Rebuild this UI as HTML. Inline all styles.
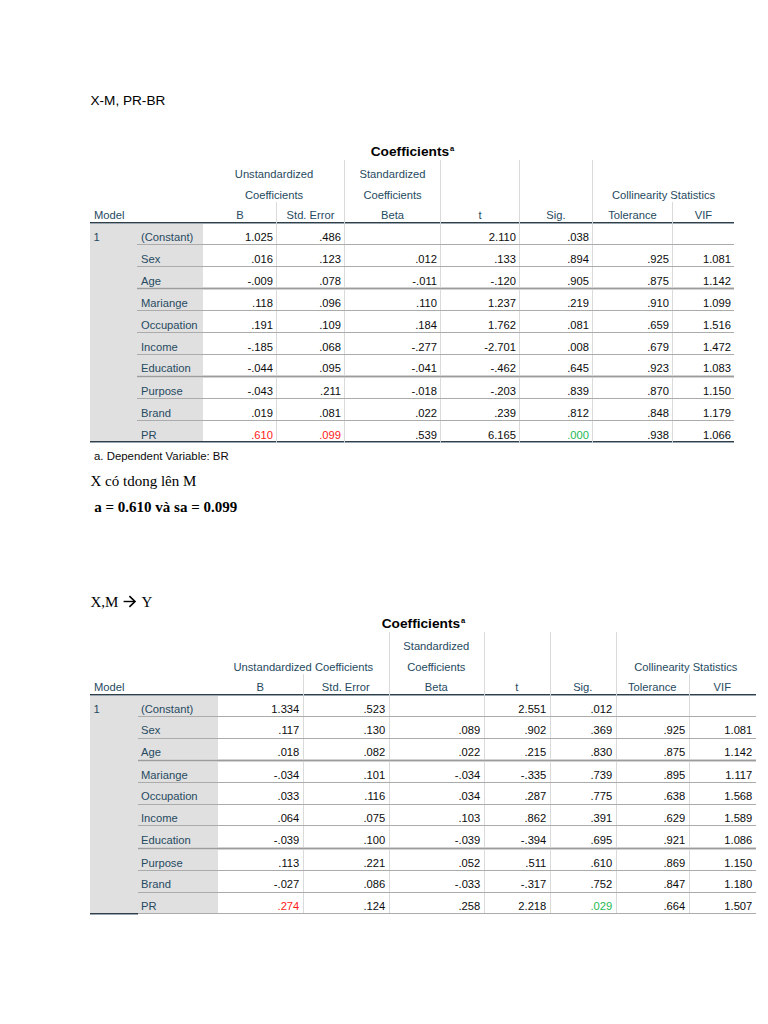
<!DOCTYPE html>
<html><head><meta charset="utf-8"><title>Coefficients</title>
<style>
html,body{margin:0;padding:0;background:#fff;}
body{width:768px;height:1024px;position:relative;overflow:hidden;font-family:"Liberation Sans", sans-serif;}
.t{position:absolute;white-space:nowrap;line-height:1;}
.r{position:absolute;}
sup{font-size:0.55em;vertical-align:0;position:relative;top:-0.7em;margin-left:1px;}
</style></head><body>
<div class="t" style="top:94px;left:90.5px;font-size:13.6px;color:#000;">X-M, PR-BR</div>
<div class="r" style="left:90px;top:224px;width:113px;height:217px;background:#e0e0e0"></div>
<div class="r" style="left:276px;top:202px;width:1px;height:241px;background:#dadada"></div>
<div class="r" style="left:344px;top:160px;width:1px;height:283px;background:#dadada"></div>
<div class="r" style="left:440px;top:160px;width:1px;height:283px;background:#dadada"></div>
<div class="r" style="left:519px;top:160px;width:1px;height:283px;background:#dadada"></div>
<div class="r" style="left:592px;top:160px;width:1px;height:283px;background:#dadada"></div>
<div class="r" style="left:672px;top:202px;width:1px;height:241px;background:#dadada"></div>
<div class="r" style="left:90px;top:222px;width:644px;height:1px;background:#2f404b"></div>
<div class="r" style="left:90px;top:223px;width:644px;height:1px;background:#9aa5ad"></div>
<div class="r" style="left:276px;top:222px;width:1px;height:2px;background:#c9cfd3"></div>
<div class="r" style="left:344px;top:222px;width:1px;height:2px;background:#c9cfd3"></div>
<div class="r" style="left:440px;top:222px;width:1px;height:2px;background:#c9cfd3"></div>
<div class="r" style="left:519px;top:222px;width:1px;height:2px;background:#c9cfd3"></div>
<div class="r" style="left:592px;top:222px;width:1px;height:2px;background:#c9cfd3"></div>
<div class="r" style="left:672px;top:222px;width:1px;height:2px;background:#c9cfd3"></div>
<div class="r" style="left:137px;top:244px;width:597px;height:1px;background:#ababab"></div>
<div class="r" style="left:137px;top:266px;width:597px;height:1px;background:#ababab"></div>
<div class="r" style="left:137px;top:287px;width:597px;height:1px;background:#d2d2d2"></div>
<div class="r" style="left:137px;top:288px;width:597px;height:1px;background:#9c9c9c"></div>
<div class="r" style="left:137px;top:289px;width:597px;height:1px;background:#d2d2d2"></div>
<div class="r" style="left:137px;top:310px;width:597px;height:1px;background:#ababab"></div>
<div class="r" style="left:137px;top:332px;width:597px;height:1px;background:#ababab"></div>
<div class="r" style="left:137px;top:354px;width:597px;height:1px;background:#ababab"></div>
<div class="r" style="left:137px;top:375px;width:597px;height:1px;background:#d2d2d2"></div>
<div class="r" style="left:137px;top:376px;width:597px;height:1px;background:#9c9c9c"></div>
<div class="r" style="left:137px;top:377px;width:597px;height:1px;background:#d2d2d2"></div>
<div class="r" style="left:137px;top:398px;width:597px;height:1px;background:#ababab"></div>
<div class="r" style="left:137px;top:420px;width:597px;height:1px;background:#ababab"></div>
<div class="r" style="left:90px;top:441px;width:644px;height:1px;background:#2f404b"></div>
<div class="r" style="left:90px;top:442px;width:644px;height:1px;background:#9aa5ad"></div>
<div class="r" style="left:276px;top:441px;width:1px;height:2px;background:#c9cfd3"></div>
<div class="r" style="left:344px;top:441px;width:1px;height:2px;background:#c9cfd3"></div>
<div class="r" style="left:440px;top:441px;width:1px;height:2px;background:#c9cfd3"></div>
<div class="r" style="left:519px;top:441px;width:1px;height:2px;background:#c9cfd3"></div>
<div class="r" style="left:592px;top:441px;width:1px;height:2px;background:#c9cfd3"></div>
<div class="r" style="left:672px;top:441px;width:1px;height:2px;background:#c9cfd3"></div>
<div class="t" style="top:145px;left:212.5px;width:400px;text-align:center;font-size:13.7px;color:#000;font-weight:bold;">Coefficients<sup>a</sup></div>
<div class="t" style="top:169px;left:74px;width:400px;text-align:center;font-size:11.2px;color:#264a60;">Unstandardized</div>
<div class="t" style="top:190px;left:74px;width:400px;text-align:center;font-size:11.2px;color:#264a60;">Coefficients</div>
<div class="t" style="top:169px;left:192.5px;width:400px;text-align:center;font-size:11.2px;color:#264a60;">Standardized</div>
<div class="t" style="top:190px;left:192.5px;width:400px;text-align:center;font-size:11.2px;color:#264a60;">Coefficients</div>
<div class="t" style="top:190px;left:463.5px;width:400px;text-align:center;font-size:11.2px;color:#264a60;">Collinearity Statistics</div>
<div class="t" style="top:210px;left:94px;font-size:11.2px;color:#264a60;">Model</div>
<div class="t" style="top:210px;left:40px;width:400px;text-align:center;font-size:11.2px;color:#264a60;">B</div>
<div class="t" style="top:210px;left:110.5px;width:400px;text-align:center;font-size:11.2px;color:#264a60;">Std. Error</div>
<div class="t" style="top:210px;left:192.5px;width:400px;text-align:center;font-size:11.2px;color:#264a60;">Beta</div>
<div class="t" style="top:210px;left:280px;width:400px;text-align:center;font-size:11.2px;color:#264a60;">t</div>
<div class="t" style="top:210px;left:356px;width:400px;text-align:center;font-size:11.2px;color:#264a60;">Sig.</div>
<div class="t" style="top:210px;left:432.5px;width:400px;text-align:center;font-size:11.2px;color:#264a60;">Tolerance</div>
<div class="t" style="top:210px;left:503.5px;width:400px;text-align:center;font-size:11.2px;color:#264a60;">VIF</div>
<div class="t" style="top:232px;left:93.5px;font-size:11.2px;color:#264a60;">1</div>
<div class="t" style="top:232px;left:141px;font-size:11.2px;color:#264a60;">(Constant)</div>
<div class="t" style="top:232px;left:-27px;width:300px;text-align:right;font-size:11.2px;color:#0c0c0c;">1.025</div>
<div class="t" style="top:232px;left:41px;width:300px;text-align:right;font-size:11.2px;color:#0c0c0c;">.486</div>
<div class="t" style="top:232px;left:216px;width:300px;text-align:right;font-size:11.2px;color:#0c0c0c;">2.110</div>
<div class="t" style="top:232px;left:289px;width:300px;text-align:right;font-size:11.2px;color:#0c0c0c;">.038</div>
<div class="t" style="top:254px;left:141px;font-size:11.2px;color:#264a60;">Sex</div>
<div class="t" style="top:254px;left:-27px;width:300px;text-align:right;font-size:11.2px;color:#0c0c0c;">.016</div>
<div class="t" style="top:254px;left:41px;width:300px;text-align:right;font-size:11.2px;color:#0c0c0c;">.123</div>
<div class="t" style="top:254px;left:137px;width:300px;text-align:right;font-size:11.2px;color:#0c0c0c;">.012</div>
<div class="t" style="top:254px;left:216px;width:300px;text-align:right;font-size:11.2px;color:#0c0c0c;">.133</div>
<div class="t" style="top:254px;left:289px;width:300px;text-align:right;font-size:11.2px;color:#0c0c0c;">.894</div>
<div class="t" style="top:254px;left:369px;width:300px;text-align:right;font-size:11.2px;color:#0c0c0c;">.925</div>
<div class="t" style="top:254px;left:431px;width:300px;text-align:right;font-size:11.2px;color:#0c0c0c;">1.081</div>
<div class="t" style="top:276px;left:141px;font-size:11.2px;color:#264a60;">Age</div>
<div class="t" style="top:276px;left:-27px;width:300px;text-align:right;font-size:11.2px;color:#0c0c0c;">-.009</div>
<div class="t" style="top:276px;left:41px;width:300px;text-align:right;font-size:11.2px;color:#0c0c0c;">.078</div>
<div class="t" style="top:276px;left:137px;width:300px;text-align:right;font-size:11.2px;color:#0c0c0c;">-.011</div>
<div class="t" style="top:276px;left:216px;width:300px;text-align:right;font-size:11.2px;color:#0c0c0c;">-.120</div>
<div class="t" style="top:276px;left:289px;width:300px;text-align:right;font-size:11.2px;color:#0c0c0c;">.905</div>
<div class="t" style="top:276px;left:369px;width:300px;text-align:right;font-size:11.2px;color:#0c0c0c;">.875</div>
<div class="t" style="top:276px;left:431px;width:300px;text-align:right;font-size:11.2px;color:#0c0c0c;">1.142</div>
<div class="t" style="top:298px;left:141px;font-size:11.2px;color:#264a60;">Mariange</div>
<div class="t" style="top:298px;left:-27px;width:300px;text-align:right;font-size:11.2px;color:#0c0c0c;">.118</div>
<div class="t" style="top:298px;left:41px;width:300px;text-align:right;font-size:11.2px;color:#0c0c0c;">.096</div>
<div class="t" style="top:298px;left:137px;width:300px;text-align:right;font-size:11.2px;color:#0c0c0c;">.110</div>
<div class="t" style="top:298px;left:216px;width:300px;text-align:right;font-size:11.2px;color:#0c0c0c;">1.237</div>
<div class="t" style="top:298px;left:289px;width:300px;text-align:right;font-size:11.2px;color:#0c0c0c;">.219</div>
<div class="t" style="top:298px;left:369px;width:300px;text-align:right;font-size:11.2px;color:#0c0c0c;">.910</div>
<div class="t" style="top:298px;left:431px;width:300px;text-align:right;font-size:11.2px;color:#0c0c0c;">1.099</div>
<div class="t" style="top:320px;left:141px;font-size:11.2px;color:#264a60;">Occupation</div>
<div class="t" style="top:320px;left:-27px;width:300px;text-align:right;font-size:11.2px;color:#0c0c0c;">.191</div>
<div class="t" style="top:320px;left:41px;width:300px;text-align:right;font-size:11.2px;color:#0c0c0c;">.109</div>
<div class="t" style="top:320px;left:137px;width:300px;text-align:right;font-size:11.2px;color:#0c0c0c;">.184</div>
<div class="t" style="top:320px;left:216px;width:300px;text-align:right;font-size:11.2px;color:#0c0c0c;">1.762</div>
<div class="t" style="top:320px;left:289px;width:300px;text-align:right;font-size:11.2px;color:#0c0c0c;">.081</div>
<div class="t" style="top:320px;left:369px;width:300px;text-align:right;font-size:11.2px;color:#0c0c0c;">.659</div>
<div class="t" style="top:320px;left:431px;width:300px;text-align:right;font-size:11.2px;color:#0c0c0c;">1.516</div>
<div class="t" style="top:342px;left:141px;font-size:11.2px;color:#264a60;">Income</div>
<div class="t" style="top:342px;left:-27px;width:300px;text-align:right;font-size:11.2px;color:#0c0c0c;">-.185</div>
<div class="t" style="top:342px;left:41px;width:300px;text-align:right;font-size:11.2px;color:#0c0c0c;">.068</div>
<div class="t" style="top:342px;left:137px;width:300px;text-align:right;font-size:11.2px;color:#0c0c0c;">-.277</div>
<div class="t" style="top:342px;left:216px;width:300px;text-align:right;font-size:11.2px;color:#0c0c0c;">-2.701</div>
<div class="t" style="top:342px;left:289px;width:300px;text-align:right;font-size:11.2px;color:#0c0c0c;">.008</div>
<div class="t" style="top:342px;left:369px;width:300px;text-align:right;font-size:11.2px;color:#0c0c0c;">.679</div>
<div class="t" style="top:342px;left:431px;width:300px;text-align:right;font-size:11.2px;color:#0c0c0c;">1.472</div>
<div class="t" style="top:363px;left:141px;font-size:11.2px;color:#264a60;">Education</div>
<div class="t" style="top:363px;left:-27px;width:300px;text-align:right;font-size:11.2px;color:#0c0c0c;">-.044</div>
<div class="t" style="top:363px;left:41px;width:300px;text-align:right;font-size:11.2px;color:#0c0c0c;">.095</div>
<div class="t" style="top:363px;left:137px;width:300px;text-align:right;font-size:11.2px;color:#0c0c0c;">-.041</div>
<div class="t" style="top:363px;left:216px;width:300px;text-align:right;font-size:11.2px;color:#0c0c0c;">-.462</div>
<div class="t" style="top:363px;left:289px;width:300px;text-align:right;font-size:11.2px;color:#0c0c0c;">.645</div>
<div class="t" style="top:363px;left:369px;width:300px;text-align:right;font-size:11.2px;color:#0c0c0c;">.923</div>
<div class="t" style="top:363px;left:431px;width:300px;text-align:right;font-size:11.2px;color:#0c0c0c;">1.083</div>
<div class="t" style="top:386px;left:141px;font-size:11.2px;color:#264a60;">Purpose</div>
<div class="t" style="top:386px;left:-27px;width:300px;text-align:right;font-size:11.2px;color:#0c0c0c;">-.043</div>
<div class="t" style="top:386px;left:41px;width:300px;text-align:right;font-size:11.2px;color:#0c0c0c;">.211</div>
<div class="t" style="top:386px;left:137px;width:300px;text-align:right;font-size:11.2px;color:#0c0c0c;">-.018</div>
<div class="t" style="top:386px;left:216px;width:300px;text-align:right;font-size:11.2px;color:#0c0c0c;">-.203</div>
<div class="t" style="top:386px;left:289px;width:300px;text-align:right;font-size:11.2px;color:#0c0c0c;">.839</div>
<div class="t" style="top:386px;left:369px;width:300px;text-align:right;font-size:11.2px;color:#0c0c0c;">.870</div>
<div class="t" style="top:386px;left:431px;width:300px;text-align:right;font-size:11.2px;color:#0c0c0c;">1.150</div>
<div class="t" style="top:408px;left:141px;font-size:11.2px;color:#264a60;">Brand</div>
<div class="t" style="top:408px;left:-27px;width:300px;text-align:right;font-size:11.2px;color:#0c0c0c;">.019</div>
<div class="t" style="top:408px;left:41px;width:300px;text-align:right;font-size:11.2px;color:#0c0c0c;">.081</div>
<div class="t" style="top:408px;left:137px;width:300px;text-align:right;font-size:11.2px;color:#0c0c0c;">.022</div>
<div class="t" style="top:408px;left:216px;width:300px;text-align:right;font-size:11.2px;color:#0c0c0c;">.239</div>
<div class="t" style="top:408px;left:289px;width:300px;text-align:right;font-size:11.2px;color:#0c0c0c;">.812</div>
<div class="t" style="top:408px;left:369px;width:300px;text-align:right;font-size:11.2px;color:#0c0c0c;">.848</div>
<div class="t" style="top:408px;left:431px;width:300px;text-align:right;font-size:11.2px;color:#0c0c0c;">1.179</div>
<div class="t" style="top:430px;left:141px;font-size:11.2px;color:#264a60;">PR</div>
<div class="t" style="top:430px;left:-27px;width:300px;text-align:right;font-size:11.2px;color:#ff1a1a;">.610</div>
<div class="t" style="top:430px;left:41px;width:300px;text-align:right;font-size:11.2px;color:#ff1a1a;">.099</div>
<div class="t" style="top:430px;left:137px;width:300px;text-align:right;font-size:11.2px;color:#0c0c0c;">.539</div>
<div class="t" style="top:430px;left:216px;width:300px;text-align:right;font-size:11.2px;color:#0c0c0c;">6.165</div>
<div class="t" style="top:430px;left:289px;width:300px;text-align:right;font-size:11.2px;color:#1db954;">.000</div>
<div class="t" style="top:430px;left:369px;width:300px;text-align:right;font-size:11.2px;color:#0c0c0c;">.938</div>
<div class="t" style="top:430px;left:431px;width:300px;text-align:right;font-size:11.2px;color:#0c0c0c;">1.066</div>
<div class="t" style="top:451px;left:94px;font-size:11.4px;color:#0c0c0c;">a. Dependent Variable: BR</div>
<div class="t" style="top:474px;left:90.5px;font-size:15px;color:#000;font-family:'Liberation Serif', serif;">X có tdong lên M</div>
<div class="t" style="top:500px;left:90.5px;font-size:15px;color:#000;font-family:'Liberation Serif', serif;font-weight:bold;">&nbsp;a = 0.610 và sa = 0.099</div>
<div class="t" style="top:595px;left:90.5px;font-size:15px;color:#000;font-family:'Liberation Serif', serif;">X,M</div>
<div class="t" style="top:595px;left:141.5px;font-size:15px;color:#000;font-family:'Liberation Serif', serif;">Y</div>
<svg style="position:absolute;left:120px;top:592px" width="20" height="20" viewBox="120 592 20 20"><path d="M123.6 601.5 H135" stroke="#000" stroke-width="1.4" fill="none"/><path d="M129.4 596.2 L135 601.5 L129.4 606.8" stroke="#000" stroke-width="1.6" fill="none" stroke-linejoin="miter"/></svg>
<div class="r" style="left:90px;top:696px;width:128px;height:217px;background:#e0e0e0"></div>
<div class="r" style="left:303px;top:674px;width:1px;height:239px;background:#dadada"></div>
<div class="r" style="left:389px;top:632px;width:1px;height:281px;background:#dadada"></div>
<div class="r" style="left:484px;top:632px;width:1px;height:281px;background:#dadada"></div>
<div class="r" style="left:550px;top:632px;width:1px;height:281px;background:#dadada"></div>
<div class="r" style="left:616px;top:632px;width:1px;height:281px;background:#dadada"></div>
<div class="r" style="left:689px;top:674px;width:1px;height:239px;background:#dadada"></div>
<div class="r" style="left:90px;top:694px;width:666px;height:1px;background:#2f404b"></div>
<div class="r" style="left:90px;top:695px;width:666px;height:1px;background:#9aa5ad"></div>
<div class="r" style="left:303px;top:694px;width:1px;height:2px;background:#c9cfd3"></div>
<div class="r" style="left:389px;top:694px;width:1px;height:2px;background:#c9cfd3"></div>
<div class="r" style="left:484px;top:694px;width:1px;height:2px;background:#c9cfd3"></div>
<div class="r" style="left:550px;top:694px;width:1px;height:2px;background:#c9cfd3"></div>
<div class="r" style="left:616px;top:694px;width:1px;height:2px;background:#c9cfd3"></div>
<div class="r" style="left:689px;top:694px;width:1px;height:2px;background:#c9cfd3"></div>
<div class="r" style="left:138px;top:716px;width:618px;height:1px;background:#ababab"></div>
<div class="r" style="left:138px;top:738px;width:618px;height:1px;background:#ababab"></div>
<div class="r" style="left:138px;top:759px;width:618px;height:1px;background:#d2d2d2"></div>
<div class="r" style="left:138px;top:760px;width:618px;height:1px;background:#9c9c9c"></div>
<div class="r" style="left:138px;top:761px;width:618px;height:1px;background:#d2d2d2"></div>
<div class="r" style="left:138px;top:782px;width:618px;height:1px;background:#ababab"></div>
<div class="r" style="left:138px;top:804px;width:618px;height:1px;background:#ababab"></div>
<div class="r" style="left:138px;top:825px;width:618px;height:1px;background:#ababab"></div>
<div class="r" style="left:138px;top:847px;width:618px;height:1px;background:#d2d2d2"></div>
<div class="r" style="left:138px;top:848px;width:618px;height:1px;background:#9c9c9c"></div>
<div class="r" style="left:138px;top:849px;width:618px;height:1px;background:#d2d2d2"></div>
<div class="r" style="left:138px;top:870px;width:618px;height:1px;background:#ababab"></div>
<div class="r" style="left:138px;top:892px;width:618px;height:1px;background:#ababab"></div>
<div class="r" style="left:90px;top:913px;width:48px;height:1px;background:#2f404b"></div>
<div class="r" style="left:90px;top:914px;width:48px;height:1px;background:#9aa5ad"></div>
<div class="r" style="left:138px;top:913px;width:618px;height:1px;background:#ababab"></div>
<div class="t" style="top:617px;left:223.5px;width:400px;text-align:center;font-size:13.7px;color:#000;font-weight:bold;">Coefficients<sup>a</sup></div>
<div class="t" style="top:641px;left:236.3px;width:400px;text-align:center;font-size:11.2px;color:#264a60;">Standardized</div>
<div class="t" style="top:662px;left:103.3px;width:400px;text-align:center;font-size:11.2px;color:#264a60;">Unstandardized Coefficients</div>
<div class="t" style="top:662px;left:236.3px;width:400px;text-align:center;font-size:11.2px;color:#264a60;">Coefficients</div>
<div class="t" style="top:662px;left:485.8px;width:400px;text-align:center;font-size:11.2px;color:#264a60;">Collinearity Statistics</div>
<div class="t" style="top:682px;left:94px;font-size:11.2px;color:#264a60;">Model</div>
<div class="t" style="top:682px;left:60.3px;width:400px;text-align:center;font-size:11.2px;color:#264a60;">B</div>
<div class="t" style="top:682px;left:145.8px;width:400px;text-align:center;font-size:11.2px;color:#264a60;">Std. Error</div>
<div class="t" style="top:682px;left:236.3px;width:400px;text-align:center;font-size:11.2px;color:#264a60;">Beta</div>
<div class="t" style="top:682px;left:316.8px;width:400px;text-align:center;font-size:11.2px;color:#264a60;">t</div>
<div class="t" style="top:682px;left:382.8px;width:400px;text-align:center;font-size:11.2px;color:#264a60;">Sig.</div>
<div class="t" style="top:682px;left:452.3px;width:400px;text-align:center;font-size:11.2px;color:#264a60;">Tolerance</div>
<div class="t" style="top:682px;left:522.3px;width:400px;text-align:center;font-size:11.2px;color:#264a60;">VIF</div>
<div class="t" style="top:704px;left:93.5px;font-size:11.2px;color:#264a60;">1</div>
<div class="t" style="top:704px;left:141px;font-size:11.2px;color:#264a60;">(Constant)</div>
<div class="t" style="top:704px;left:-0.7px;width:300px;text-align:right;font-size:11.2px;color:#0c0c0c;">1.334</div>
<div class="t" style="top:704px;left:85.3px;width:300px;text-align:right;font-size:11.2px;color:#0c0c0c;">.523</div>
<div class="t" style="top:704px;left:246.3px;width:300px;text-align:right;font-size:11.2px;color:#0c0c0c;">2.551</div>
<div class="t" style="top:704px;left:312.3px;width:300px;text-align:right;font-size:11.2px;color:#0c0c0c;">.012</div>
<div class="t" style="top:725px;left:141px;font-size:11.2px;color:#264a60;">Sex</div>
<div class="t" style="top:725px;left:-0.7px;width:300px;text-align:right;font-size:11.2px;color:#0c0c0c;">.117</div>
<div class="t" style="top:725px;left:85.3px;width:300px;text-align:right;font-size:11.2px;color:#0c0c0c;">.130</div>
<div class="t" style="top:725px;left:180.3px;width:300px;text-align:right;font-size:11.2px;color:#0c0c0c;">.089</div>
<div class="t" style="top:725px;left:246.3px;width:300px;text-align:right;font-size:11.2px;color:#0c0c0c;">.902</div>
<div class="t" style="top:725px;left:312.3px;width:300px;text-align:right;font-size:11.2px;color:#0c0c0c;">.369</div>
<div class="t" style="top:725px;left:385.3px;width:300px;text-align:right;font-size:11.2px;color:#0c0c0c;">.925</div>
<div class="t" style="top:725px;left:452.3px;width:300px;text-align:right;font-size:11.2px;color:#0c0c0c;">1.081</div>
<div class="t" style="top:747px;left:141px;font-size:11.2px;color:#264a60;">Age</div>
<div class="t" style="top:747px;left:-0.7px;width:300px;text-align:right;font-size:11.2px;color:#0c0c0c;">.018</div>
<div class="t" style="top:747px;left:85.3px;width:300px;text-align:right;font-size:11.2px;color:#0c0c0c;">.082</div>
<div class="t" style="top:747px;left:180.3px;width:300px;text-align:right;font-size:11.2px;color:#0c0c0c;">.022</div>
<div class="t" style="top:747px;left:246.3px;width:300px;text-align:right;font-size:11.2px;color:#0c0c0c;">.215</div>
<div class="t" style="top:747px;left:312.3px;width:300px;text-align:right;font-size:11.2px;color:#0c0c0c;">.830</div>
<div class="t" style="top:747px;left:385.3px;width:300px;text-align:right;font-size:11.2px;color:#0c0c0c;">.875</div>
<div class="t" style="top:747px;left:452.3px;width:300px;text-align:right;font-size:11.2px;color:#0c0c0c;">1.142</div>
<div class="t" style="top:770px;left:141px;font-size:11.2px;color:#264a60;">Mariange</div>
<div class="t" style="top:770px;left:-0.7px;width:300px;text-align:right;font-size:11.2px;color:#0c0c0c;">-.034</div>
<div class="t" style="top:770px;left:85.3px;width:300px;text-align:right;font-size:11.2px;color:#0c0c0c;">.101</div>
<div class="t" style="top:770px;left:180.3px;width:300px;text-align:right;font-size:11.2px;color:#0c0c0c;">-.034</div>
<div class="t" style="top:770px;left:246.3px;width:300px;text-align:right;font-size:11.2px;color:#0c0c0c;">-.335</div>
<div class="t" style="top:770px;left:312.3px;width:300px;text-align:right;font-size:11.2px;color:#0c0c0c;">.739</div>
<div class="t" style="top:770px;left:385.3px;width:300px;text-align:right;font-size:11.2px;color:#0c0c0c;">.895</div>
<div class="t" style="top:770px;left:452.3px;width:300px;text-align:right;font-size:11.2px;color:#0c0c0c;">1.117</div>
<div class="t" style="top:791px;left:141px;font-size:11.2px;color:#264a60;">Occupation</div>
<div class="t" style="top:791px;left:-0.7px;width:300px;text-align:right;font-size:11.2px;color:#0c0c0c;">.033</div>
<div class="t" style="top:791px;left:85.3px;width:300px;text-align:right;font-size:11.2px;color:#0c0c0c;">.116</div>
<div class="t" style="top:791px;left:180.3px;width:300px;text-align:right;font-size:11.2px;color:#0c0c0c;">.034</div>
<div class="t" style="top:791px;left:246.3px;width:300px;text-align:right;font-size:11.2px;color:#0c0c0c;">.287</div>
<div class="t" style="top:791px;left:312.3px;width:300px;text-align:right;font-size:11.2px;color:#0c0c0c;">.775</div>
<div class="t" style="top:791px;left:385.3px;width:300px;text-align:right;font-size:11.2px;color:#0c0c0c;">.638</div>
<div class="t" style="top:791px;left:452.3px;width:300px;text-align:right;font-size:11.2px;color:#0c0c0c;">1.568</div>
<div class="t" style="top:813px;left:141px;font-size:11.2px;color:#264a60;">Income</div>
<div class="t" style="top:813px;left:-0.7px;width:300px;text-align:right;font-size:11.2px;color:#0c0c0c;">.064</div>
<div class="t" style="top:813px;left:85.3px;width:300px;text-align:right;font-size:11.2px;color:#0c0c0c;">.075</div>
<div class="t" style="top:813px;left:180.3px;width:300px;text-align:right;font-size:11.2px;color:#0c0c0c;">.103</div>
<div class="t" style="top:813px;left:246.3px;width:300px;text-align:right;font-size:11.2px;color:#0c0c0c;">.862</div>
<div class="t" style="top:813px;left:312.3px;width:300px;text-align:right;font-size:11.2px;color:#0c0c0c;">.391</div>
<div class="t" style="top:813px;left:385.3px;width:300px;text-align:right;font-size:11.2px;color:#0c0c0c;">.629</div>
<div class="t" style="top:813px;left:452.3px;width:300px;text-align:right;font-size:11.2px;color:#0c0c0c;">1.589</div>
<div class="t" style="top:835px;left:141px;font-size:11.2px;color:#264a60;">Education</div>
<div class="t" style="top:835px;left:-0.7px;width:300px;text-align:right;font-size:11.2px;color:#0c0c0c;">-.039</div>
<div class="t" style="top:835px;left:85.3px;width:300px;text-align:right;font-size:11.2px;color:#0c0c0c;">.100</div>
<div class="t" style="top:835px;left:180.3px;width:300px;text-align:right;font-size:11.2px;color:#0c0c0c;">-.039</div>
<div class="t" style="top:835px;left:246.3px;width:300px;text-align:right;font-size:11.2px;color:#0c0c0c;">-.394</div>
<div class="t" style="top:835px;left:312.3px;width:300px;text-align:right;font-size:11.2px;color:#0c0c0c;">.695</div>
<div class="t" style="top:835px;left:385.3px;width:300px;text-align:right;font-size:11.2px;color:#0c0c0c;">.921</div>
<div class="t" style="top:835px;left:452.3px;width:300px;text-align:right;font-size:11.2px;color:#0c0c0c;">1.086</div>
<div class="t" style="top:858px;left:141px;font-size:11.2px;color:#264a60;">Purpose</div>
<div class="t" style="top:858px;left:-0.7px;width:300px;text-align:right;font-size:11.2px;color:#0c0c0c;">.113</div>
<div class="t" style="top:858px;left:85.3px;width:300px;text-align:right;font-size:11.2px;color:#0c0c0c;">.221</div>
<div class="t" style="top:858px;left:180.3px;width:300px;text-align:right;font-size:11.2px;color:#0c0c0c;">.052</div>
<div class="t" style="top:858px;left:246.3px;width:300px;text-align:right;font-size:11.2px;color:#0c0c0c;">.511</div>
<div class="t" style="top:858px;left:312.3px;width:300px;text-align:right;font-size:11.2px;color:#0c0c0c;">.610</div>
<div class="t" style="top:858px;left:385.3px;width:300px;text-align:right;font-size:11.2px;color:#0c0c0c;">.869</div>
<div class="t" style="top:858px;left:452.3px;width:300px;text-align:right;font-size:11.2px;color:#0c0c0c;">1.150</div>
<div class="t" style="top:879px;left:141px;font-size:11.2px;color:#264a60;">Brand</div>
<div class="t" style="top:879px;left:-0.7px;width:300px;text-align:right;font-size:11.2px;color:#0c0c0c;">-.027</div>
<div class="t" style="top:879px;left:85.3px;width:300px;text-align:right;font-size:11.2px;color:#0c0c0c;">.086</div>
<div class="t" style="top:879px;left:180.3px;width:300px;text-align:right;font-size:11.2px;color:#0c0c0c;">-.033</div>
<div class="t" style="top:879px;left:246.3px;width:300px;text-align:right;font-size:11.2px;color:#0c0c0c;">-.317</div>
<div class="t" style="top:879px;left:312.3px;width:300px;text-align:right;font-size:11.2px;color:#0c0c0c;">.752</div>
<div class="t" style="top:879px;left:385.3px;width:300px;text-align:right;font-size:11.2px;color:#0c0c0c;">.847</div>
<div class="t" style="top:879px;left:452.3px;width:300px;text-align:right;font-size:11.2px;color:#0c0c0c;">1.180</div>
<div class="t" style="top:901px;left:141px;font-size:11.2px;color:#264a60;">PR</div>
<div class="t" style="top:901px;left:-0.7px;width:300px;text-align:right;font-size:11.2px;color:#ff1a1a;">.274</div>
<div class="t" style="top:901px;left:85.3px;width:300px;text-align:right;font-size:11.2px;color:#0c0c0c;">.124</div>
<div class="t" style="top:901px;left:180.3px;width:300px;text-align:right;font-size:11.2px;color:#0c0c0c;">.258</div>
<div class="t" style="top:901px;left:246.3px;width:300px;text-align:right;font-size:11.2px;color:#0c0c0c;">2.218</div>
<div class="t" style="top:901px;left:312.3px;width:300px;text-align:right;font-size:11.2px;color:#1db954;">.029</div>
<div class="t" style="top:901px;left:385.3px;width:300px;text-align:right;font-size:11.2px;color:#0c0c0c;">.664</div>
<div class="t" style="top:901px;left:452.3px;width:300px;text-align:right;font-size:11.2px;color:#0c0c0c;">1.507</div>
</body></html>
